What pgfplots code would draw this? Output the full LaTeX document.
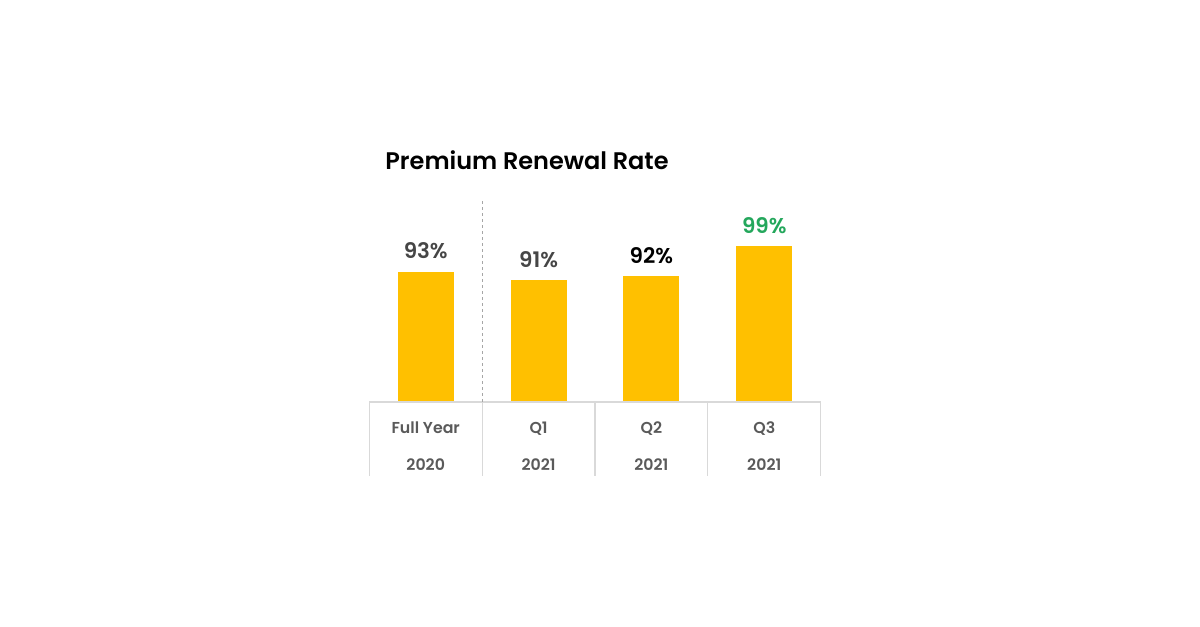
\documentclass[border=0pt]{standalone}
\usepackage{pgfplots}
\pgfplotsset{compat=1.18}
\usepackage{fontspec}
\setmainfont{Poppins}[BoldFont={Poppins SemiBold}]
\definecolor{bargold}{HTML}{FFC000}
\definecolor{valgray}{HTML}{464646}
\definecolor{valgreen}{HTML}{24A75C}
\definecolor{labgray}{HTML}{5A5A5A}
\definecolor{gridgray}{HTML}{D9D9D9}
\begin{document}
\begin{tikzpicture}
\fill[white] (0,0) rectangle (600bp,313.5bp);
\useasboundingbox (0,0) rectangle (600bp,313.5bp);
\node[anchor=base west, font=\fontsize{12bp}{14bp}\selectfont\bfseries, text=black, inner sep=0pt]
  at (192.5bp,228.5bp) {Premium Renewal Rate};
\begin{axis}[
  at={(184.65bp,112.5bp)}, anchor=south west,
  scale only axis, width=225.7bp, height=101bp,
  xmin=-0.5, xmax=3.5, ymin=62, ymax=110,
  axis x line=bottom, hide y axis, axis line style={draw=none},
  major tick length=0pt, clip=false,
  /pgf/number format/assume math mode=true,
  ybar, bar width=28bp, bar shift=0pt,
  xtick={0,1,2,3},
  xticklabels={{\strut Full Year\\2020},{\strut Q1\\2021},{\strut Q2\\2021},{\strut Q3\\2021}},
  xticklabel style={align=center, anchor=north, inner sep=0pt, yshift=-2.8bp,
    text=labgray, font=\fontsize{7.9bp}{18.3bp}\selectfont\bfseries},
  nodes near coords={\pgfmathprintnumber{\pgfplotspointmeta}\%},
  nodes near coords style={anchor=base, yshift=6.3bp, inner sep=0pt,
    font=\fontsize{10.7bp}{12bp}\selectfont\bfseries},
]
\addplot[fill=bargold, draw=none, nodes near coords style={text=valgray}] coordinates {(0,93)};
\addplot[fill=bargold, draw=none, nodes near coords style={text=valgray}] coordinates {(1,91)};
\addplot[fill=bargold, draw=none, nodes near coords style={text=black}] coordinates {(2,92)};
\addplot[fill=bargold, draw=none, nodes near coords style={text=valgreen}] coordinates {(3,99)};
% table grid under the bars
\draw[gridgray, line width=0.6bp] (axis cs:-0.5,62) -- (axis cs:3.5,62);
\draw[gridgray, line width=0.6bp] (axis cs:-0.5,62) -- ([yshift=-37.2bp]axis cs:-0.5,62);
\draw[gridgray, line width=0.6bp] (axis cs:0.5,62) -- ([yshift=-37.2bp]axis cs:0.5,62);
\draw[gridgray, line width=0.6bp] (axis cs:1.5,62) -- ([yshift=-37.2bp]axis cs:1.5,62);
\draw[gridgray, line width=0.6bp] (axis cs:2.5,62) -- ([yshift=-37.2bp]axis cs:2.5,62);
\draw[gridgray, line width=0.6bp] (axis cs:3.5,62) -- ([yshift=-37.2bp]axis cs:3.5,62);
\draw[gray!70, line width=0.5bp, dash pattern=on 1.5bp off 1.5bp] (axis cs:0.5,62) -- (axis cs:0.5,110);
\end{axis}
\end{tikzpicture}
\end{document}
